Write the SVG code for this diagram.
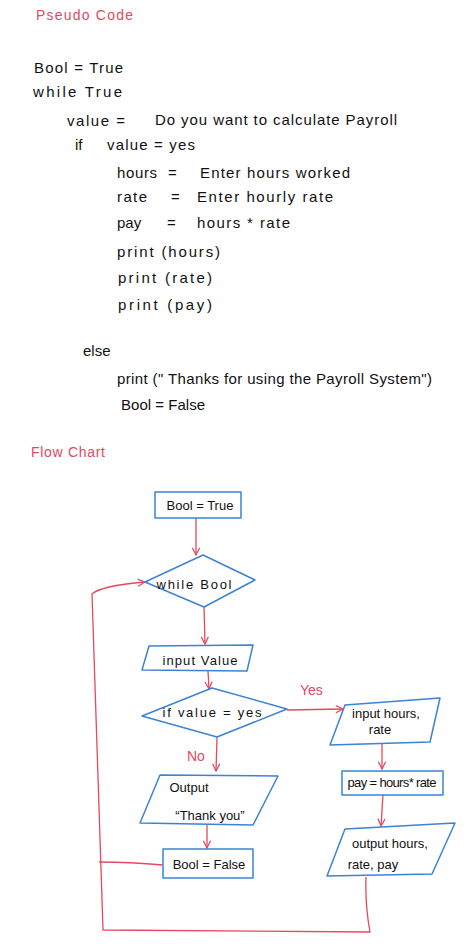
<svg xmlns="http://www.w3.org/2000/svg" width="474" height="951" viewBox="0 0 474 951">
<style>
.code{font-family:"Liberation Sans",Arial,sans-serif;font-size:15px;fill:#111}
.red{font-family:"Liberation Sans",Arial,sans-serif;font-size:14px;fill:#e04a63}
.fc{font-family:"Liberation Sans",Arial,sans-serif;font-size:13px;fill:#111}
.shape{fill:none;stroke:#3d82d6;stroke-width:1.5;stroke-linejoin:round}
.con{fill:none;stroke:#e5495d;stroke-width:1.3;stroke-linejoin:round}
</style>
<defs>
<marker id="ah" viewBox="0 0 10 10" refX="9" refY="5" markerWidth="9" markerHeight="9" markerUnits="userSpaceOnUse" orient="auto">
<path d="M1,1 L9,5 L1,9" fill="none" stroke="#e5495d" stroke-width="1.4"/>
</marker>
</defs>
<rect width="474" height="951" fill="#fff"/>
<g id="pseudocode">
<text class="red" x="36" y="20" font-size="16" textLength="97">Pseudo Code</text>
<text class="code" x="34" y="73" textLength="89">Bool = True</text>
<text class="code" x="33" y="97" textLength="89">while True</text>
<text class="code" x="67" y="126" textLength="58">value =</text>
<text class="code" x="155" y="125" textLength="242">Do you want to calculate Payroll</text>
<text class="code" x="75" y="150">if</text>
<text class="code" x="107" y="150" textLength="88">value = yes</text>
<text class="code" x="117" y="178" textLength="40">hours</text>
<text class="code" x="168" y="178">=</text>
<text class="code" x="200" y="178" textLength="150">Enter hours worked</text>
<text class="code" x="117" y="202" textLength="30">rate</text>
<text class="code" x="171" y="202">=</text>
<text class="code" x="197" y="202" textLength="136">Enter hourly rate</text>
<text class="code" x="117" y="228">pay</text>
<text class="code" x="167" y="228">=</text>
<text class="code" x="197" y="228" textLength="93">hours * rate</text>
<text class="code" x="117" y="257" textLength="103">print (hours)</text>
<text class="code" x="118" y="283" textLength="94">print (rate)</text>
<text class="code" x="118" y="310" textLength="94">print (pay)</text>
<text class="code" x="83" y="356">else</text>
<text class="code" x="117" y="384" textLength="315">print (" Thanks for using the Payroll System")</text>
<text class="code" x="121" y="410" textLength="84">Bool = False</text>
<text class="red" x="31" y="457" textLength="74">Flow Chart</text>
</g>
<g id="connectors">
<path class="con" d="M196,518 L196,555" marker-end="url(#ah)"/>
<path class="con" d="M204,607 L205,644" marker-end="url(#ah)"/>
<path class="con" d="M208,671 L209,689" marker-end="url(#ah)"/>
<path class="con" d="M287,710 L343,709" marker-end="url(#ah)"/>
<path class="con" d="M217,737 L216,771" marker-end="url(#ah)"/>
<path class="con" d="M207,825 L207,848" marker-end="url(#ah)"/>
<path class="con" d="M382,743 L382,769" marker-end="url(#ah)"/>
<path class="con" d="M383,795 L381,826" marker-end="url(#ah)"/>
<path class="con" d="M366,877 Q365,905 370,932 L103,930 L92,594 Q100,586 145,582" marker-end="url(#ah)"/>
<path class="con" d="M163,865 Q130,862 99,862"/>
<text class="red" x="300" y="695" font-size="12">Yes</text>
<text class="red" x="187" y="761" font-size="12">No</text>
</g>
<g id="n-bool-true">
<rect class="shape" x="155" y="492" width="86" height="26"/>
<text class="fc" x="200" y="510" text-anchor="middle">Bool = True</text>
</g>
<g id="n-while">
<path class="shape" d="M203,555 L255,580 L204,607 L145,582 Z"/>
<text class="fc" x="194" y="589" text-anchor="middle" textLength="75">while  Bool</text>
</g>
<g id="n-input-value">
<path class="shape" d="M149,646 L253,645 L247,671 L142,670 Z"/>
<text class="fc" x="200" y="665" text-anchor="middle" textLength="75">input  Value</text>
</g>
<g id="n-if">
<path class="shape" d="M212,688 L287,709 L217,737 L142,716 Z"/>
<text class="fc" x="212" y="717" text-anchor="middle" textLength="99">if  value = yes</text>
</g>
<g id="n-input-hours">
<path class="shape" d="M345,705 L440,698 L430,742 L330,745 Z"/>
<text class="fc" x="386" y="718" text-anchor="middle">input hours,</text>
<text class="fc" x="380" y="734" text-anchor="middle">rate</text>
</g>
<g id="n-pay">
<rect class="shape" x="342" y="771" width="101" height="24"/>
<text class="fc" x="392" y="787" text-anchor="middle" textLength="89">pay = hours* rate</text>
</g>
<g id="n-output-hours">
<path class="shape" d="M345,829 L455,823 L432,874 L327,876 Z"/>
<text class="fc" x="390" y="848" text-anchor="middle">output hours,</text>
<text class="fc" x="373" y="869" text-anchor="middle">rate, pay</text>
</g>
<g id="n-output-thank">
<path class="shape" d="M160,775 L278,776 L253,825 L140,823 Z"/>
<text class="fc" x="189" y="792" text-anchor="middle">Output</text>
<text class="fc" x="210" y="820" text-anchor="middle">“Thank you”</text>
</g>
<g id="n-bool-false">
<rect class="shape" x="163" y="849" width="90" height="29"/>
<text class="fc" x="209" y="869" text-anchor="middle">Bool = False</text>
</g>
</svg>
